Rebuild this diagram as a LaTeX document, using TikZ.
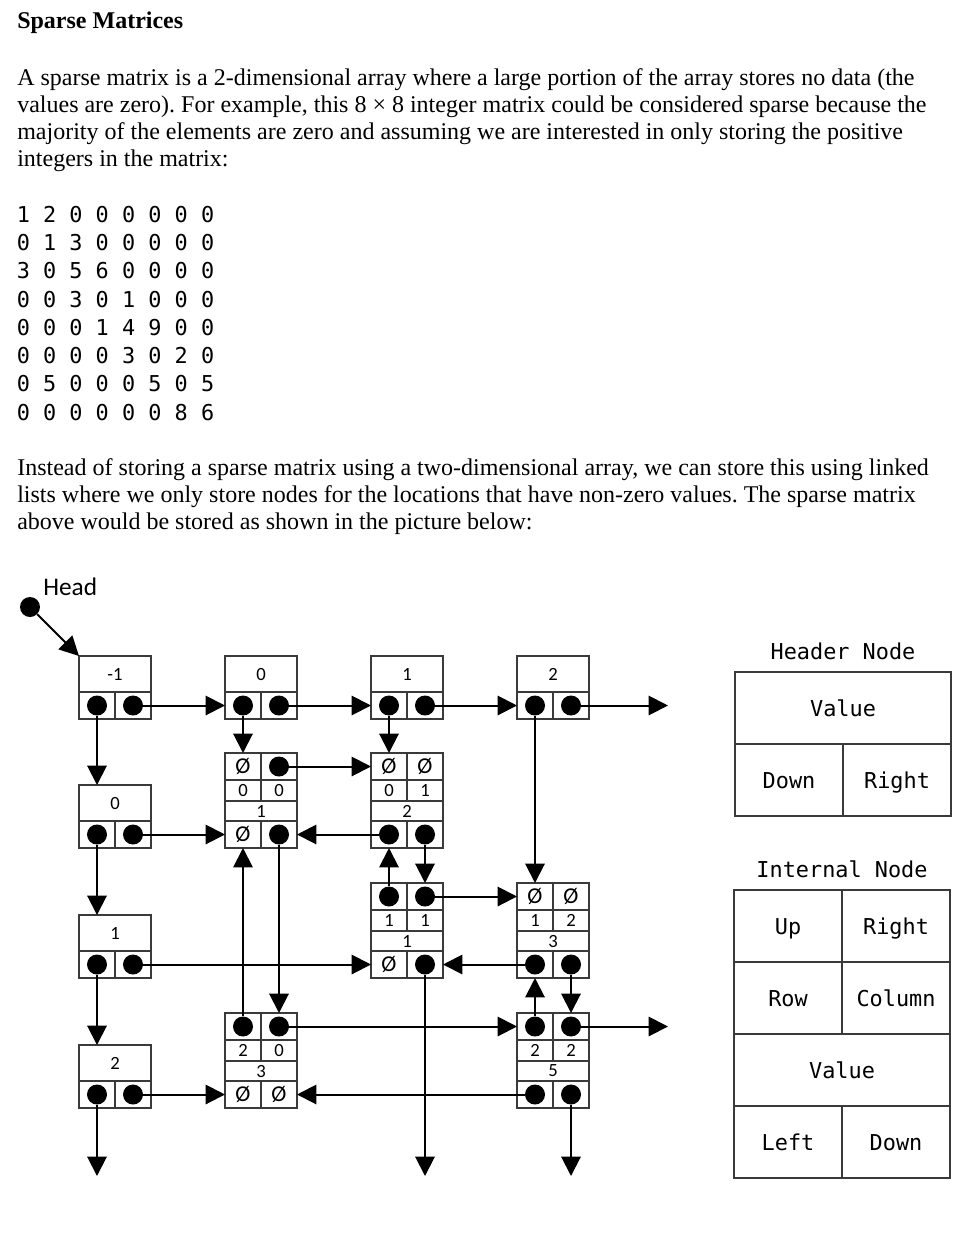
\documentclass[tikz,border=0pt]{standalone}
\usepackage{fontspec}
\setmainfont{Liberation Serif}
\newfontfamily\monof{DejaVu Sans Mono}
\newfontfamily\calf{Carlito}
\usetikzlibrary{arrows.meta}
\definecolor{cellgray}{HTML}{3A3A3A}
\frenchspacing

\tikzset{
  cell/.style={draw=cellgray, line width=0.8pt},
  boxnode/.style={cell, inner sep=0, outer sep=0, anchor=south west, minimum width=54pt},
  dotn/.style={circle, fill=black, inner sep=0, minimum size=15pt},
  conn/.style={line width=1.5pt, -{Triangle[length=14.5pt,width=14.5pt]}},
  num/.style={font=\calf\fontsize{14}{16}\selectfont, inner sep=0},
  nul/.style={font=\calf\fontsize{17}{19}\selectfont, inner sep=0},
  lgd/.style={font=\monof\fontsize{16.4}{18}\selectfont, inner sep=0, text height=1.5ex, text depth=0.25ex},
  para/.style={anchor=base west, inner sep=0, font=\fontsize{18}{20}\selectfont},
  mrow/.style={anchor=base west, inner sep=0, font=\monof\fontsize{16.4}{18}\selectfont},
}

% header node: name, x-left, y-bottom, label
\newcommand{\HdrNode}[4]{%
  \node[boxnode, minimum height=47.25pt] (#1) at (#2,#3) {};
  \draw[cell] (#2,#3-27) -- +(72,0) (#2+36,#3-27) -- (#2+36,#3);
  \node[num] (#1-val) at (#2+36,#3-45) {#4};
  \node[dotn] (#1-d) at (#2+18,#3-13.5) {};
  \node[dotn] (#1-r) at (#2+54,#3-13.5) {};
  \coordinate (#1-nw) at (#2,#3-63);
  \coordinate (#1-tl) at (#2+18,#3-63);
  \coordinate (#1-wb) at (#2,#3-13.5);
}
% internal node: name, x-left, y-bottom, row, col, value
\newcommand{\IntNode}[6]{%
  \node[boxnode, minimum height=71.25pt] (#1) at (#2,#3) {};
  \draw[cell] (#2,#3-68) -- +(72,0) (#2,#3-47) -- +(72,0) (#2,#3-27) -- +(72,0)
     (#2+36,#3-95) -- (#2+36,#3-47) (#2+36,#3-27) -- (#2+36,#3);
  \node[num] (#1-row) at (#2+18,#3-57.5) {#4};
  \node[num] (#1-col) at (#2+54,#3-57.5) {#5};
  \node[num] (#1-val) at (#2+36,#3-37) {#6};
  \coordinate (#1-u) at (#2+18,#3-81.5);
  \coordinate (#1-r) at (#2+54,#3-81.5);
  \coordinate (#1-l) at (#2+18,#3-13.5);
  \coordinate (#1-d) at (#2+54,#3-13.5);
  \coordinate (#1-tl) at (#2+18,#3-95);
  \coordinate (#1-tr) at (#2+54,#3-95);
  \coordinate (#1-bl) at (#2+18,#3);
  \coordinate (#1-wt) at (#2,#3-81.5);
  \coordinate (#1-wb) at (#2,#3-13.5);
  \coordinate (#1-eb) at (#2+72,#3-13.5);
}

\begin{document}
\begin{tikzpicture}[x=0.75pt, y=-0.75pt]
\useasboundingbox (0,0) rectangle (972,1238);

% ---- text ----
\node[para, font=\bfseries\fontsize{18}{20}\selectfont] (title) at (17,28.3) {Sparse Matrices};
\node[para] (p1a) at (17,85) {A sparse matrix is a 2-dimensional array where a large portion of the array stores no data (the};
\node[para] (p1b) at (17,112.3) {values are zero). For example, this 8 × 8 integer matrix could be considered sparse because the};
\node[para] (p1c) at (17,139) {majority of the elements are zero and assuming we are interested in only storing the positive};
\node[para] (p1d) at (17,166) {integers in the matrix:};

\node[mrow] (m1) at (16.5,222.3) {1 2 0 0 0 0 0 0};
\node[mrow] (m2) at (16.5,250.5) {0 1 3 0 0 0 0 0};
\node[mrow] (m3) at (16.5,278.8) {3 0 5 6 0 0 0 0};
\node[mrow] (m4) at (16.5,307.0) {0 0 3 0 1 0 0 0};
\node[mrow] (m5) at (16.5,335.3) {0 0 0 1 4 9 0 0};
\node[mrow] (m6) at (16.5,363.5) {0 0 0 0 3 0 2 0};
\node[mrow] (m7) at (16.5,391.7) {0 5 0 0 0 5 0 5};
\node[mrow] (m8) at (16.5,420.0) {0 0 0 0 0 0 8 6};

\node[para] (p2a) at (17,475) {Instead of storing a sparse matrix using a two-dimensional array, we can store this using linked};
\node[para] (p2b) at (17,502) {lists where we only store nodes for the locations that have non-zero values. The sparse matrix};
\node[para] (p2c) at (17,529) {above would be stored as shown in the picture below:};

% ---- head ----
\node[anchor=base west, inner sep=0, font=\calf\fontsize{19}{21}\selectfont] (headlbl) at (43,595) {Head};
\node[dotn] (head) at (30,607) {};

% ---- header nodes ----
\HdrNode{Hm}{79}{719}{-1}
\HdrNode{H0}{225}{719}{0}
\HdrNode{H1}{371}{719}{1}
\HdrNode{H2}{517}{719}{2}
\HdrNode{R0}{79}{848}{0}
\HdrNode{R1}{79}{978}{1}
\HdrNode{R2}{79}{1108}{2}

% ---- internal nodes ----
\IntNode{A}{225}{848}{0}{0}{1}
\IntNode{B}{371}{848}{0}{1}{2}
\IntNode{C}{371}{978}{1}{1}{1}
\IntNode{D}{517}{978}{1}{2}{3}
\IntNode{E}{225}{1108}{2}{0}{3}
\IntNode{F}{517}{1108}{2}{2}{5}

\foreach \p in {A-r,A-d,B-l,B-d,C-u,C-r,C-d,D-l,D-d,E-u,E-r,F-u,F-r,F-l,F-d}
  \node[dotn] (\p-dot) at (\p) {};
\foreach \p in {A-u,A-l,B-u,B-r,C-l,D-u,D-r,E-l,E-d}
  \node[nul] (\p-nul) at (\p) {Ø};

% free ends
\coordinate (H2-end) at (668,705.5);
\coordinate (F-rend) at (668,1026.5);
\coordinate (R2-end) at (97,1176);
\coordinate (C-end) at (425,1176);
\coordinate (F-dend) at (571,1176);

% ---- connectors ----
\draw[conn] (head) -- (Hm-nw);
\draw[conn] (Hm-r) -- (H0-wb);
\draw[conn] (Hm-d) -- (R0-tl);
\draw[conn] (H0-r) -- (H1-wb);
\draw[conn] (H0-d) -- (A-tl);
\draw[conn] (H1-r) -- (H2-wb);
\draw[conn] (H1-d) -- (B-tl);
\draw[conn] (H2-r) -- (H2-end);
\draw[conn] (H2-d) -- (D-tl);
\draw[conn] (R0-r) -- (A-wb);
\draw[conn] (R0-d) -- (R1-tl);
\draw[conn] (R1-r) -- (C-wb);
\draw[conn] (R1-d) -- (R2-tl);
\draw[conn] (R2-r) -- (E-wb);
\draw[conn] (R2-d) -- (R2-end);
\draw[conn] (A-r-dot) -- (B-wt);
\draw[conn] (A-d-dot) -- (E-tr);
\draw[conn] (B-l-dot) -- (A-eb);
\draw[conn] (B-d-dot) -- (C-tr);
\draw[conn] (C-u-dot) -- (B-bl);
\draw[conn] (C-r-dot) -- (D-wt);
\draw[conn] (C-d-dot) -- (C-end);
\draw[conn] (D-l-dot) -- (C-eb);
\draw[conn] (D-d-dot) -- (F-tr);
\draw[conn] (E-u-dot) -- (A-bl);
\draw[conn] (E-r-dot) -- (F-wt);
\draw[conn] (F-u-dot) -- (D-bl);
\draw[conn] (F-r-dot) -- (F-rend);
\draw[conn] (F-l-dot) -- (E-eb);
\draw[conn] (F-d-dot) -- (F-dend);

% ---- legend ----
\node[lgd] (lgHt) at (843,656) {Header Node};
\node[cell, inner sep=0, outer sep=0, anchor=north west, minimum width=162pt, minimum height=108pt] (lgH) at (735,672) {};
\draw[cell] (735,744) -- (951,744) (843,744) -- (843,816);
\node[lgd] (lgHv) at (843,712.5) {Value};
\node[lgd] (lgHd) at (789,784.5) {Down};
\node[lgd] (lgHr) at (897,784.5) {Right};

\node[lgd] (lgIt) at (842,874) {Internal Node};
\node[cell, inner sep=0, outer sep=0, anchor=north west, minimum width=162pt, minimum height=216pt] (lgI) at (734,890) {};
\draw[cell] (734,962) -- (950,962) (734,1034) -- (950,1034) (734,1106) -- (950,1106)
  (842,890) -- (842,1034) (842,1106) -- (842,1178);
\node[lgd] (lgIu) at (788,930.5) {Up};
\node[lgd] (lgIr) at (896,930.5) {Right};
\node[lgd] (lgIrow) at (788,1002.5) {Row};
\node[lgd] (lgIc) at (896,1002.5) {Column};
\node[lgd] (lgIv) at (842,1074.5) {Value};
\node[lgd] (lgIl) at (788,1146.5) {Left};
\node[lgd] (lgId) at (896,1146.5) {Down};
\end{tikzpicture}
\end{document}
